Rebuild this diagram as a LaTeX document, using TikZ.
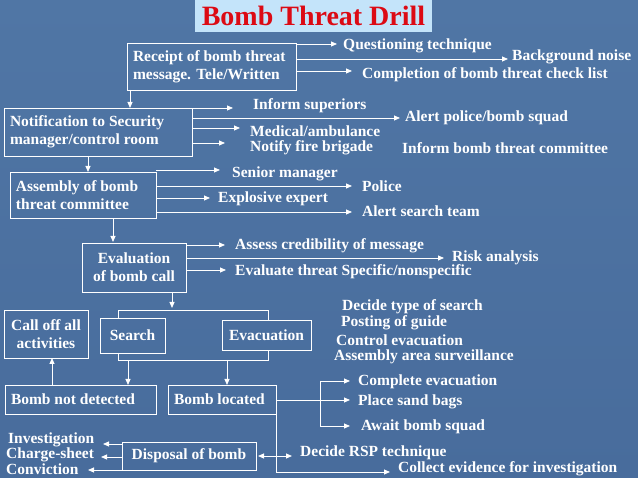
\documentclass[tikz,border=0pt]{standalone}
\usepackage{fontspec}
\setmainfont{Liberation Serif}
\usetikzlibrary{arrows.meta,positioning}
\definecolor{bgblue}{RGB}{72,108,156}
\definecolor{bgtop}{RGB}{80,118,165}
\definecolor{titlebg}{RGB}{196,228,250}
\definecolor{titlered}{RGB}{220,10,20}
\tikzset{
  box/.style={draw=white, thick, text=white, font=\bfseries\fontsize{15.5}{18}\selectfont, align=flush left, inner xsep=6pt, inner ysep=2pt},
  txt/.style={text=white, font=\bfseries\fontsize{15.5}{18}\selectfont, anchor=west, inner sep=0pt},
  arr/.style={draw=white, thick, -{Triangle[width=5pt,length=6pt]}},
  ln/.style={draw=white, thick}
}
\begin{document}
\begin{tikzpicture}[x=1pt,y=-1pt]
\shade[top color=bgtop, bottom color=bgblue] (0,0) rectangle (638,478);
\useasboundingbox (0,0) rectangle (638,478);
\node[fill=titlebg, text=titlered, font=\bfseries\fontsize{28}{30}\selectfont, minimum width=237, minimum height=33, inner sep=0pt] (title) at (313.5,16) {Bomb Threat Drill};

% boxes
\node[box, text width=157, minimum height=47] (receipt) at (211.5,66.5) {Receipt of bomb threat\\message. Tele/Written};
\node[box, text width=176, minimum height=48] (notify) at (98,132) {Notification to Security\\manager/control room};
\node[box, text width=134, minimum height=46] (assembly) at (83,195) {Assembly of bomb\\threat committee};
\node[box, text width=92, minimum height=49, align=flush center] (eval) at (134,267.5) {Evaluation\\ of bomb call};
\node[box, minimum width=65, minimum height=35] (search) at (132.5,335.5) {Search};
\node[box, minimum width=89, minimum height=30] (evac) at (266.5,335) {Evacuation};
\node[box, text width=80, inner xsep=2pt, minimum height=48, align=flush center] (calloff) at (46,334) {Call off all\\activities};
\node[box, text width=139, minimum height=29] (notdet) at (80.5,399.5) {Bomb not detected};
\node[box, text width=96, minimum height=29] (located) at (222,399.5) {Bomb located};
\node[box, minimum width=134, minimum height=28] (disposal) at (189,456) {Disposal of bomb};

% texts
\node[txt] (quest) at (343,46) {Questioning technique};
\node[txt] (noise) at (512,57) {Background noise};
\node[txt] (check) at (362,75) {Completion of bomb threat check list};
\node[txt] (superiors) at (253,106) {Inform superiors};
\node[txt] (police1) at (405,118) {Alert police/bomb squad};
\node[txt] (medical) at (250,131) {Medical/ambulance};
\node[txt] (fire) at (250,148) {Notify fire brigade};
\node[txt] (committee) at (402,148) {Inform bomb threat committee};
\node[txt] (senior) at (232,174) {Senior manager};
\node[txt] (police2) at (362,186) {Police};
\node[txt] (expert) at (218,199) {Explosive expert};
\node[txt] (team) at (362,211) {Alert search team};
\node[txt] (assess) at (235,246) {Assess credibility of message};
\node[txt] (risk) at (452,258) {Risk analysis};
\node[txt] (threat) at (235,272) {Evaluate threat Specific/nonspecific};
\node[txt] (type) at (342,307) {Decide type of search};
\node[txt] (guide) at (341,323) {Posting of guide};
\node[txt] (control) at (336,340) {Control evacuation};
\node[txt] (area) at (334,357) {Assembly area surveillance};
\node[txt] (complete) at (358,382) {Complete evacuation};
\node[txt] (sand) at (358,402) {Place sand bags};
\node[txt] (await) at (361,427) {Await bomb squad};
\node[txt] (invest) at (8,440) {Investigation};
\node[txt] (charge) at (6,455) {Charge-sheet};
\node[txt] (convict) at (6,469) {Conviction};
\node[txt] (rsp) at (300,453) {Decide RSP technique};
\node[txt] (collect) at (398,469) {Collect evidence for investigation};

% arrows
\draw[arr] (296,44) -- ([xshift=-6pt]quest.west |- 0,44);
\draw[arr] (296,59) -- ([xshift=-4pt]noise.west |- 0,59);
\draw[arr] (296,71) -- ([xshift=-10pt]check.west |- 0,71);
\draw[arr] (130,90) -- (130,108);
\draw[arr] (192,108) -- ([xshift=-20pt]superiors.west |- 0,108);
\draw[arr] (192,118) -- ([xshift=-5pt]police1.west);
\draw[arr] (192,128) -- ([xshift=-10pt]medical.west |- 0,128);
\draw[arr] (192,143) -- (225,143);
\draw[arr] (88,156) -- (88,172);
\draw[arr] (156,170) -- (220,170);
\draw[arr] (156,186) -- ([xshift=-10pt]police2.west);
\draw[arr] (156,198) -- (210,198);
\draw[arr] (156,212) -- ([xshift=-10pt]team.west |- 0,212);
\draw[arr] (113,218) -- (113,242);
\draw[arr] (186,245) -- (225,245);
\draw[arr] (186,258) -- ([xshift=-8pt]risk.west);
\draw[arr] (186,270) -- (226,270);
\draw[arr] (172,292) -- (172,308);
\draw[ln] (118,318) -- (118,310) -- (268,310) -- (268,320);
\draw[ln] (118,353) -- (118,360) -- (268,360) -- (268,350);
\draw[arr] (128,360) -- (128,385);
\draw[arr] (227,360) -- (227,385);
\draw[arr] (52,385) -- (52,358);
\draw[ln] (276,400) -- (320,400);
\draw[ln] (320,381) -- (320,426);
\draw[arr] (320,381) -- (350,381);
\draw[arr] (320,400) -- (350,400);
\draw[arr] (320,426) -- (350,426);
\draw[arr] (122,444) -- (103,444);
\draw[arr] (122,457) -- (101,457);
\draw[arr] (122,470) -- (88,470);
\draw[draw=white, thick, {Triangle[width=5pt,length=6pt]}-{Triangle[width=5pt,length=6pt]}] (258,456) -- (292,456);
\draw[arr] (276,414) -- (276,472) -- (390,472);
\end{tikzpicture}
\end{document}
